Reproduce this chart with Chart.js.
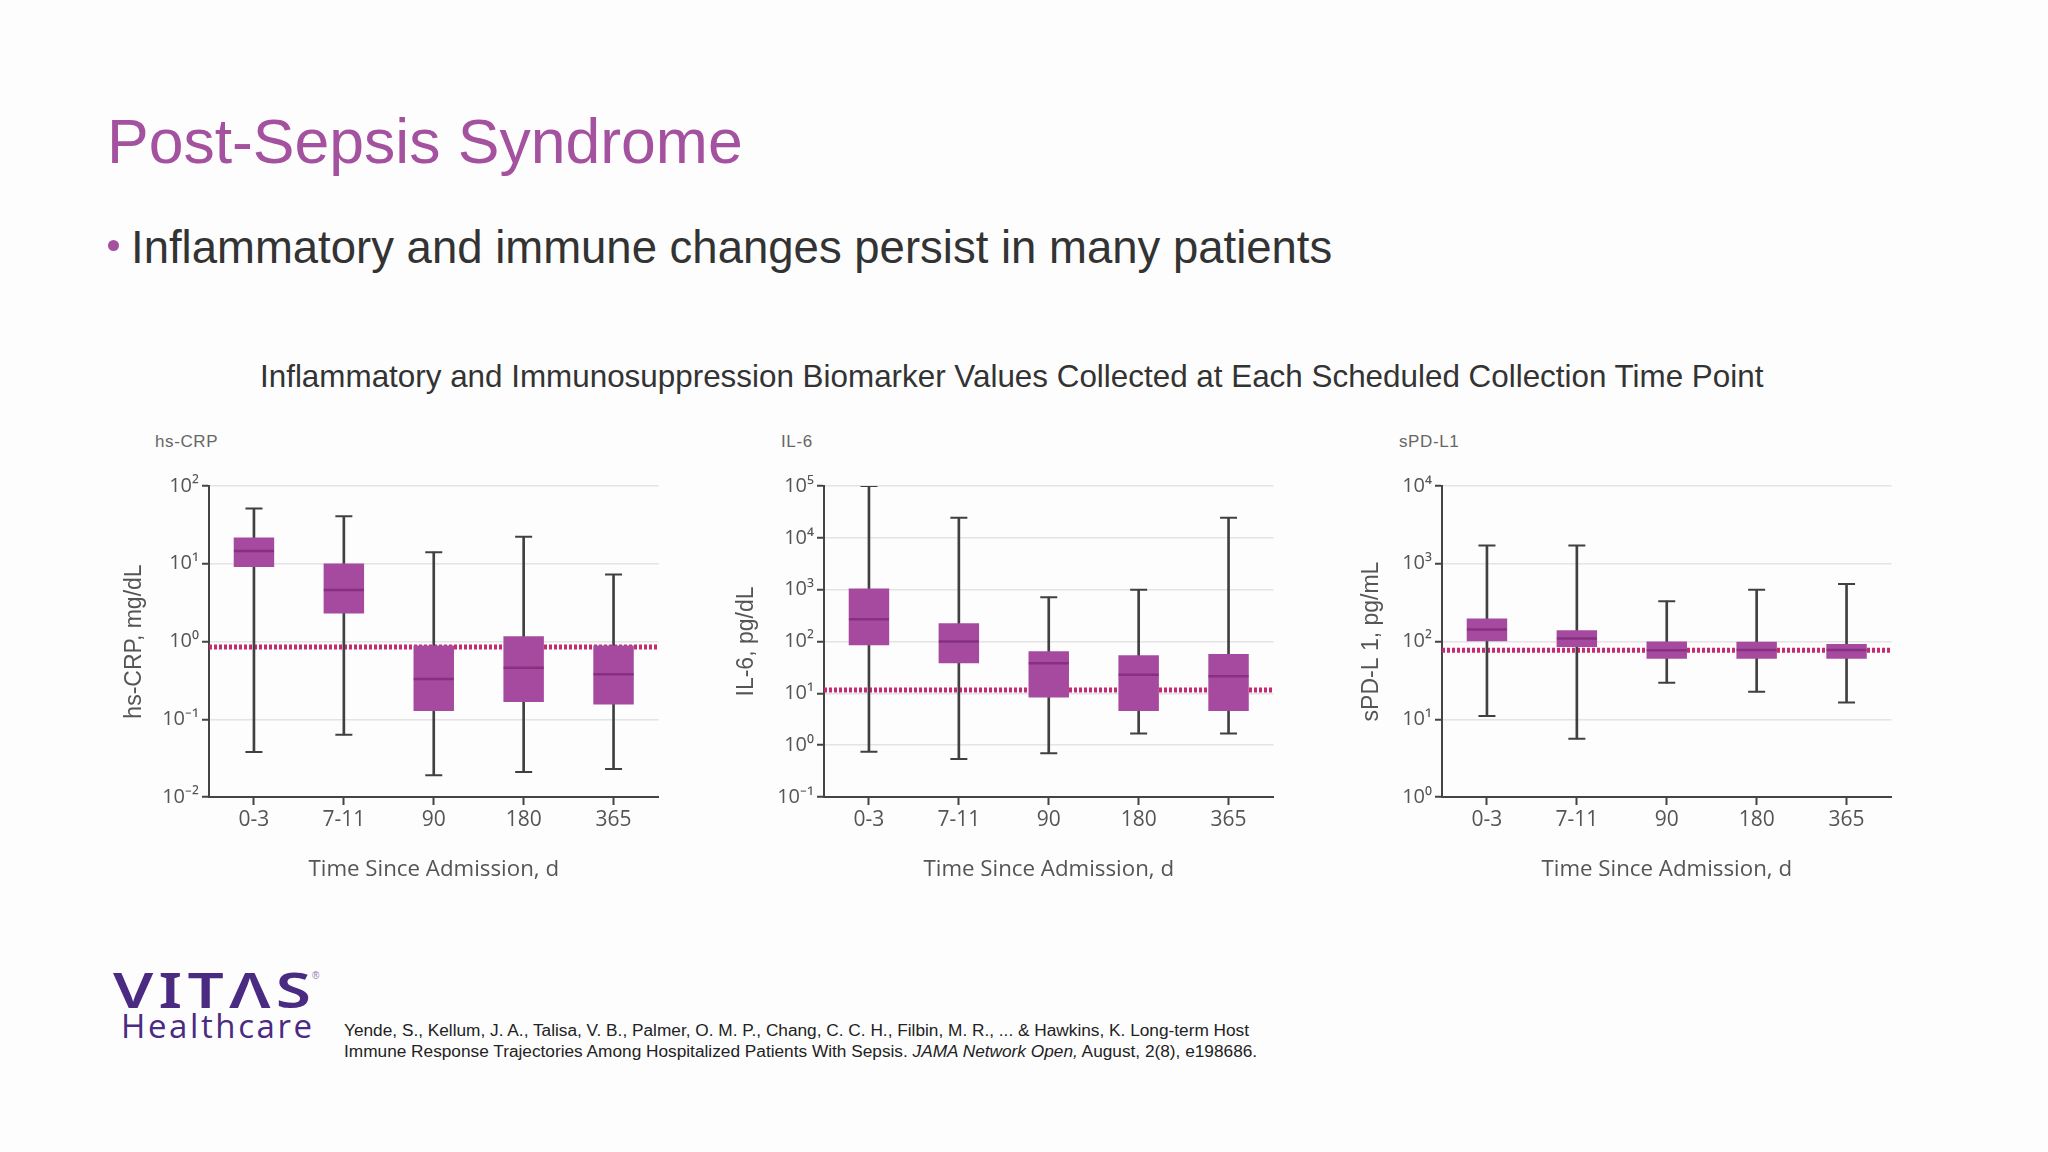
<!DOCTYPE html>
<html><head><meta charset="utf-8">
<script src="https://cdn.jsdelivr.net/npm/chart.js@4.4.1/dist/chart.umd.min.js"></script>
<style>
html,body{margin:0;padding:0;background:#fdfdfd;}
body{width:2048px;height:1152px;position:relative;overflow:hidden;font-family:"Liberation Sans",Arial,sans-serif;}
.abs{position:absolute;white-space:nowrap;}
#title{left:107px;top:110px;font-size:62.5px;line-height:62.5px;color:#A4519F;}
#bullet{left:108px;top:240px;width:11px;height:11px;border-radius:50%;background:#A4519F;}
#sub{left:131px;top:225px;font-size:45.5px;line-height:45.5px;color:#333;}
#ctitle{left:260px;top:361px;font-size:31.4px;line-height:31.4px;color:#333;}
.plabel{top:433px;font-size:17px;line-height:17px;color:#666;letter-spacing:0.6px;}
canvas{position:absolute;top:440px;}
#logo1{left:113px;top:966px;font-family:"Noto Sans",sans-serif;font-weight:600;font-size:48px;line-height:48px;color:#4B2A82;transform-origin:0 0;transform:scaleX(1.33);letter-spacing:4px;}
#reg{left:312px;top:970px;font-size:10px;color:#8a7aa8;}
#logo2{left:121px;top:1008px;font-family:"Open Sans",sans-serif;font-size:33px;line-height:36px;color:#4B2A82;letter-spacing:2.6px;}
#cite{left:344px;top:1020px;font-size:17.25px;line-height:21px;color:#222;}
</style></head>
<body>
<div class="abs" id="title">Post-Sepsis Syndrome</div>
<div class="abs" id="bullet"></div>
<div class="abs" id="sub">Inflammatory and immune changes persist in many patients</div>
<div class="abs" id="ctitle">Inflammatory and Immunosuppression Biomarker Values Collected at Each Scheduled Collection Time Point</div>
<div class="abs plabel" style="left:155px">hs-CRP</div>
<div class="abs plabel" style="left:781px">IL-6</div>
<div class="abs plabel" style="left:1399px">sPD-L1</div>
<canvas id="c1" width="582" height="460" style="left:99px"></canvas>
<canvas id="c2" width="582" height="460" style="left:714px"></canvas>
<canvas id="c3" width="582" height="460" style="left:1332px"></canvas>
<div class="abs" id="logo1">VITΛS</div>
<div class="abs" id="reg">®</div>
<div class="abs" id="logo2">Healthcare</div>
<div class="abs" id="cite">Yende, S., Kellum, J. A., Talisa, V. B., Palmer, O. M. P., Chang, C. C. H., Filbin, M. R., ... &amp; Hawkins, K. Long-term Host<br>Immune Response Trajectories Among Hospitalized Patients With Sepsis. <i>JAMA Network Open,</i> August, 2(8), e198686.</div>
<script>
const categories = ['0-3', '7-11', '90', '180', '365'];

const crpMin = [0.038, 0.063, 0.019, 0.021, 0.023];
const crpQ1  = [9.1, 2.3, 0.128, 0.167, 0.155];
const crpMed = [14.6, 4.6, 0.33, 0.458, 0.38];
const crpQ3  = [21.8, 10.1, 0.89, 1.17, 0.89];
const crpMax = [51.5, 40.7, 14.1, 22.3, 7.3];
const crpRef = 0.85;
const crpTicks = [0.01, 0.1, 1, 10, 100];
const crpTickLabels = ['10⁻²', '10⁻¹', '10⁰', '10¹', '10²'];

const il6Min = [0.75, 0.54, 0.70, 1.67, 1.67];
const il6Q1  = [85, 38, 8.3, 4.55, 4.55];
const il6Med = [268, 100, 38, 22.8, 21.4];
const il6Q3  = [1050, 226, 65, 54, 57.5];
const il6Max = [100000, 24300, 716, 1000, 24300];
const il6Ref = 11.6;
const il6Ticks = [0.1, 1, 10, 100, 1000, 10000, 100000];
const il6TickLabels = ['10⁻¹', '10⁰', '10¹', '10²', '10³', '10⁴', '10⁵'];

const pdl1Min = [11.0, 5.6, 29.4, 22.5, 16.4];
const pdl1Q1  = [101, 85, 60, 60, 60];
const pdl1Med = [143, 109, 77, 78, 78];
const pdl1Q3  = [198, 140, 100, 99, 93];
const pdl1Max = [1722, 1722, 330, 462, 547];
const pdl1Ref = 77;
const pdl1Ticks = [1, 10, 100, 1000, 10000];
const pdl1TickLabels = ['10⁰', '10¹', '10²', '10³', '10⁴'];

const BOX = '#A54A9F';
const MED = '#86307F';
const WHISK = '#404040';
const REF = '#C62A70';
const AXIS = '#444';

function makePanel(id, d) {
  new Chart(document.getElementById(id), {
    type: 'bar',
    data: {
      labels: categories,
      datasets: [
        {type: 'line', xAxisID: 'xr', data: [{x: 0, y: d.ref}, {x: 1, y: d.ref}],
         borderColor: REF, borderWidth: 5, borderDash: [3, 2], borderCapStyle: 'butt',
         pointRadius: 0, order: 5},
        {type: 'bar', data: d.min.map((v, i) => [v, d.max[i]]), backgroundColor: WHISK,
         barThickness: 2, grouped: false, order: 4},
        {type: 'bar', data: d.q1.map((v, i) => [v, d.q3[i]]), backgroundColor: BOX,
         barPercentage: 0.45, categoryPercentage: 1, grouped: false, order: 3},
        {type: 'line', data: d.med, showLine: false, pointStyle: 'line', pointRadius: 20,
         pointBorderColor: MED, pointBorderWidth: 2.5, order: 2},
        {type: 'line', data: d.min, showLine: false, pointStyle: 'line', pointRadius: 8.5,
         pointBorderColor: WHISK, pointBorderWidth: 2, order: 1},
        {type: 'line', data: d.max, showLine: false, pointStyle: 'line', pointRadius: 8.5,
         pointBorderColor: WHISK, pointBorderWidth: 2, order: 1}
      ]
    },
    options: {
      responsive: false,
      animation: false,
      events: [],
      layout: {padding: {top: 46, right: 0, left: 0, bottom: 0}},
      plugins: {legend: {display: false}, tooltip: {enabled: false}},
      scales: {
        x: {
          type: 'category', offset: true, position: 'bottom',
          grid: {display: true, drawOnChartArea: false, drawTicks: true, tickLength: 8,
                 tickColor: AXIS, tickWidth: 2, offset: false},
          border: {display: true, color: AXIS, width: 2},
          ticks: {color: '#555', font: {family: 'Open Sans', size: 21}, padding: 2,
                  maxRotation: 0, autoSkip: false},
          title: {display: true, text: 'Time Since Admission, d', color: '#555',
                  font: {family: 'Open Sans', size: 22.3}, padding: {top: 0, bottom: 17}},
          afterFit: s => { s.height = 103; }
        },
        xr: {
          type: 'linear', min: 0, max: 1, offset: false, position: 'bottom', display: true,
          grid: {display: false, drawTicks: false}, border: {display: false},
          ticks: {display: false}, title: {display: false},
          afterFit: s => { s.height = 0; }
        },
        y: {
          type: 'logarithmic', min: d.ticks[0], max: d.ticks[d.ticks.length - 1],
          afterBuildTicks: s => { s.ticks = d.ticks.map(v => ({value: v})); },
          grid: {color: '#e4e4e4', lineWidth: 1.5, drawTicks: true, tickLength: 7,
                 tickColor: AXIS, tickWidth: 2},
          border: {display: true, color: AXIS, width: 2},
          ticks: {callback: (v, i) => d.tickLabels[i], color: '#555',
                  font: {family: 'Open Sans', size: 20}, padding: 3},
          title: {display: true, text: d.yTitle, color: '#555',
                  font: {family: 'Liberation Sans', size: 23}, padding: {top: d.yPad, bottom: 0}},
          afterFit: s => { s.width = 110; }
        }
      }
    }
  });
}

makePanel('c1', {min: crpMin, q1: crpQ1, med: crpMed, q3: crpQ3, max: crpMax, ref: crpRef,
  ticks: crpTicks, tickLabels: crpTickLabels, yTitle: 'hs-CRP, mg/dL', yPad: 22});
makePanel('c2', {min: il6Min, q1: il6Q1, med: il6Med, q3: il6Q3, max: il6Max, ref: il6Ref,
  ticks: il6Ticks, tickLabels: il6TickLabels, yTitle: 'IL-6, pg/dL', yPad: 19});
makePanel('c3', {min: pdl1Min, q1: pdl1Q1, med: pdl1Med, q3: pdl1Q3, max: pdl1Max, ref: pdl1Ref,
  ticks: pdl1Ticks, tickLabels: pdl1TickLabels, yTitle: 'sPD-L 1, pg/mL', yPad: 26});
</script>
</body></html>
